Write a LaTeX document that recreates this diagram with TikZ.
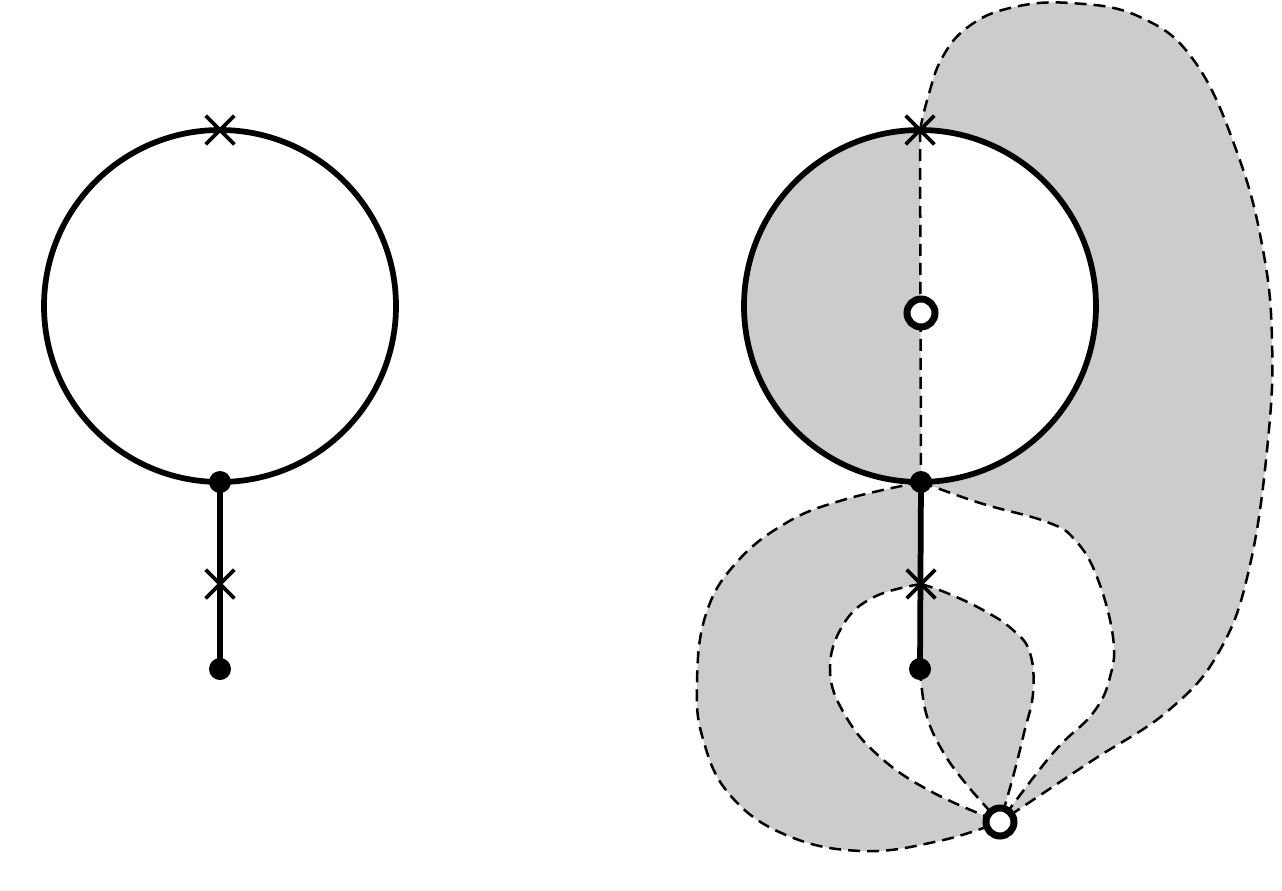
\documentclass[tikz,border=0pt]{standalone}
\usetikzlibrary{shapes.misc,backgrounds}
\colorlet{greyfill}{black!20}
\tikzset{
	xmark/.style = {cross out, draw, line width = 0.075cm, minimum size = 0.5cm, inner sep = 0pt},
	dot/.style = {circle, fill, inner sep = 0pt, minimum size = 0.44cm},
	hole/.style = {circle, draw, fill = white, line width = 0.14cm, inner sep = 0pt, minimum size = 0.56cm},
	dashedcurve/.style = {line width = 0.05cm, dash pattern = on 0.24cm off 0.14cm},
	thickline/.style = {line width = 0.115cm},
	every plot/.style = {smooth, tension = 0.7}
}
\begin{document}
\begin{tikzpicture}[x = 0.02cm, y = -0.02cm]
	\useasboundingbox (0,0) rectangle (1282,890);
	
	% left picture
	\draw[thickline] (220,306) circle[radius = 176];
	\node[xmark] (a) at (220,130) {};
	\node[dot] (b) at (220,482) {};
	\node[xmark] (c) at (220,584) {};
	\node[dot] (d) at (220,669) {};
	\draw[thickline] (b.center) -- (d.center);
	
	% right picture
	\draw[thickline] (920,306) circle[radius = 176];
	\node[xmark] (e) at (920,130) {};
	\node[hole] (f) at (921,313) {};
	\node[dot] (g) at (921,482) {};
	\node[xmark] (h) at (921,584) {};
	\node[dot] (k) at (920,669) {};
	\node[hole] (n) at (1000,822) {};
	\draw[thickline] (g.center) -- (k.center);
	
	\begin{scope}[on background layer]
		\fill[greyfill] plot[smooth] coordinates {(e.center) (928,97) (942,58) (968,27) (1010,8) (1070,3) (1140,17) (1195,62) (1238,155) (1263,250) (1272,340) (1268,440) (1250,565) (1220,650) (1169,710) (1090,762) (n.center)}
			-- plot[smooth] coordinates {(n.center) (1053,753) (1093,713) (1110,677) (1113,637) (1097,577) (1075,540) (1047,522) (980,503) (g.center)}
			arc[start angle = 90, end angle = 270, radius = 176] -- cycle;
		\fill[white] (e.center) -- (g.center) arc[start angle = 90, end angle = -90, radius = 176] -- cycle;
		\fill[greyfill] plot[smooth] coordinates {(g.center) (843,500) (786,523) (736,563) (706,614) (697,682) (703,739) (730,795) (786,835) (862,851) (939,841) (n.center)}
			-- plot[smooth] coordinates {(n.center) (1013,777) (1024,733) (1033,693) (1030,653) (1013,630) (983,610) (947,593) (h.center)} -- cycle;
		\fill[white] (h.center) -- (k.center) -- plot[smooth] coordinates {(k.center) (926,713) (942,750) (967,785) (n.center)}
			-- plot[smooth] coordinates {(n.center) (932,792) (880,757) (845,715) (830,670) (843,625) (874,597) (h.center)} -- cycle;
		
		\draw[dashedcurve] (e.center) -- (g.center);
		\draw[dashedcurve] plot[smooth] coordinates {(e.center) (928,97) (942,58) (968,27) (1010,8) (1070,3) (1140,17) (1195,62) (1238,155) (1263,250) (1272,340) (1268,440) (1250,565) (1220,650) (1169,710) (1090,762) (n.center)};
		\draw[dashedcurve] plot[smooth] coordinates {(g.center) (980,503) (1047,522) (1075,540) (1097,577) (1113,637) (1110,677) (1093,713) (1053,753) (n.center)};
		\draw[dashedcurve] plot[smooth] coordinates {(g.center) (843,500) (786,523) (736,563) (706,614) (697,682) (703,739) (730,795) (786,835) (862,851) (939,841) (n.center)};
		\draw[dashedcurve] plot[smooth] coordinates {(h.center) (947,593) (983,610) (1013,630) (1030,653) (1033,693) (1024,733) (1013,777) (n.center)};
		\draw[dashedcurve] plot[smooth] coordinates {(h.center) (874,597) (843,625) (830,670) (845,715) (880,757) (932,792) (n.center)};
		\draw[dashedcurve] plot[smooth] coordinates {(k.center) (926,713) (942,750) (967,785) (n.center)};
	\end{scope}
\end{tikzpicture}
\end{document}
